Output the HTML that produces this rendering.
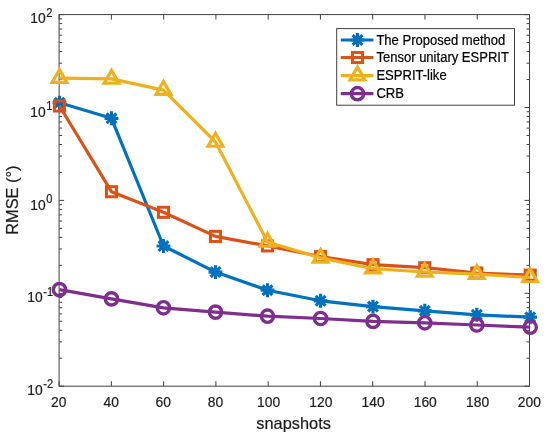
<!DOCTYPE html>
<html><head><meta charset="utf-8"><title>RMSE vs snapshots</title>
<style>html,body{margin:0;padding:0;background:#fff}</style></head>
<body>
<svg width="550" height="438" viewBox="0 0 550 438" style="display:block">
<rect width="550" height="438" fill="#fff"/>
<path d="M59.10 386.2v-5.0M59.10 14.6v5.0M111.37 386.2v-5.0M111.37 14.6v5.0M163.63 386.2v-5.0M163.63 14.6v5.0M215.90 386.2v-5.0M215.90 14.6v5.0M268.17 386.2v-5.0M268.17 14.6v5.0M320.43 386.2v-5.0M320.43 14.6v5.0M372.70 386.2v-5.0M372.70 14.6v5.0M424.97 386.2v-5.0M424.97 14.6v5.0M477.23 386.2v-5.0M477.23 14.6v5.0M529.50 386.2v-5.0M529.50 14.6v5.0M59.1 14.60h5.0M529.5 14.60h-5.0M59.1 79.53h3.0M529.5 79.53h-3.0M59.1 63.18h3.0M529.5 63.18h-3.0M59.1 51.57h3.0M529.5 51.57h-3.0M59.1 42.57h3.0M529.5 42.57h-3.0M59.1 35.21h3.0M529.5 35.21h-3.0M59.1 28.99h3.0M529.5 28.99h-3.0M59.1 23.60h3.0M529.5 23.60h-3.0M59.1 18.85h3.0M529.5 18.85h-3.0M59.1 107.50h5.0M529.5 107.50h-5.0M59.1 172.43h3.0M529.5 172.43h-3.0M59.1 156.08h3.0M529.5 156.08h-3.0M59.1 144.47h3.0M529.5 144.47h-3.0M59.1 135.47h3.0M529.5 135.47h-3.0M59.1 128.11h3.0M529.5 128.11h-3.0M59.1 121.89h3.0M529.5 121.89h-3.0M59.1 116.50h3.0M529.5 116.50h-3.0M59.1 111.75h3.0M529.5 111.75h-3.0M59.1 200.40h5.0M529.5 200.40h-5.0M59.1 265.33h3.0M529.5 265.33h-3.0M59.1 248.98h3.0M529.5 248.98h-3.0M59.1 237.37h3.0M529.5 237.37h-3.0M59.1 228.37h3.0M529.5 228.37h-3.0M59.1 221.01h3.0M529.5 221.01h-3.0M59.1 214.79h3.0M529.5 214.79h-3.0M59.1 209.40h3.0M529.5 209.40h-3.0M59.1 204.65h3.0M529.5 204.65h-3.0M59.1 293.30h5.0M529.5 293.30h-5.0M59.1 358.23h3.0M529.5 358.23h-3.0M59.1 341.88h3.0M529.5 341.88h-3.0M59.1 330.27h3.0M529.5 330.27h-3.0M59.1 321.27h3.0M529.5 321.27h-3.0M59.1 313.91h3.0M529.5 313.91h-3.0M59.1 307.69h3.0M529.5 307.69h-3.0M59.1 302.30h3.0M529.5 302.30h-3.0M59.1 297.55h3.0M529.5 297.55h-3.0M59.1 386.20h5.0M529.5 386.20h-5.0" stroke="#404040" stroke-width="1" fill="none"/>
<rect x="59.1" y="14.6" width="470.4" height="371.59999999999997" fill="none" stroke="#404040" stroke-width="1"/>
<polyline points="59.50,102.70 111.50,118.30 163.50,246.00 215.50,272.10 267.50,290.20 320.60,300.80 373.00,306.60 424.80,310.80 476.80,314.80 530.20,317.20" stroke="#0072BD" stroke-width="3.2" fill="none" stroke-linejoin="round"/>
<path d="M54.16 102.70H64.83M59.50 97.37V108.03M55.73 98.93L63.27 106.47M55.73 106.47L63.27 98.93" stroke="#0072BD" stroke-width="3.2" stroke-linecap="square" fill="none"/>
<path d="M106.17 118.30H116.83M111.50 112.97V123.63M107.73 114.53L115.27 122.07M107.73 122.07L115.27 114.53" stroke="#0072BD" stroke-width="3.2" stroke-linecap="square" fill="none"/>
<path d="M158.16 246.00H168.84M163.50 240.66V251.34M159.73 242.23L167.27 249.77M159.73 249.77L167.27 242.23" stroke="#0072BD" stroke-width="3.2" stroke-linecap="square" fill="none"/>
<path d="M210.16 272.10H220.84M215.50 266.77V277.44M211.73 268.33L219.27 275.87M211.73 275.87L219.27 268.33" stroke="#0072BD" stroke-width="3.2" stroke-linecap="square" fill="none"/>
<path d="M262.17 290.20H272.83M267.50 284.87V295.53M263.73 286.43L271.27 293.97M263.73 293.97L271.27 286.43" stroke="#0072BD" stroke-width="3.2" stroke-linecap="square" fill="none"/>
<path d="M315.27 300.80H325.94M320.60 295.47V306.13M316.83 297.03L324.37 304.57M316.83 304.57L324.37 297.03" stroke="#0072BD" stroke-width="3.2" stroke-linecap="square" fill="none"/>
<path d="M367.67 306.60H378.33M373.00 301.27V311.94M369.23 302.83L376.77 310.37M369.23 310.37L376.77 302.83" stroke="#0072BD" stroke-width="3.2" stroke-linecap="square" fill="none"/>
<path d="M419.47 310.80H430.13M424.80 305.47V316.13M421.03 307.03L428.57 314.57M421.03 314.57L428.57 307.03" stroke="#0072BD" stroke-width="3.2" stroke-linecap="square" fill="none"/>
<path d="M471.47 314.80H482.13M476.80 309.47V320.13M473.03 311.03L480.57 318.57M473.03 318.57L480.57 311.03" stroke="#0072BD" stroke-width="3.2" stroke-linecap="square" fill="none"/>
<path d="M524.87 317.20H535.54M530.20 311.87V322.53M526.43 313.43L533.97 320.97M526.43 320.97L533.97 313.43" stroke="#0072BD" stroke-width="3.2" stroke-linecap="square" fill="none"/>
<polyline points="59.50,106.00 111.50,191.70 163.50,212.30 215.50,236.40 267.50,245.90 320.60,256.50 373.00,264.70 424.80,267.70 476.80,273.00 530.20,275.10" stroke="#D95319" stroke-width="3.2" fill="none" stroke-linejoin="round"/>
<rect x="54.45" y="100.95" width="10.1" height="10.1" stroke="#D95319" stroke-width="3.0" fill="none"/>
<rect x="106.45" y="186.65" width="10.1" height="10.1" stroke="#D95319" stroke-width="3.0" fill="none"/>
<rect x="158.45" y="207.25" width="10.1" height="10.1" stroke="#D95319" stroke-width="3.0" fill="none"/>
<rect x="210.45" y="231.35" width="10.1" height="10.1" stroke="#D95319" stroke-width="3.0" fill="none"/>
<rect x="262.45" y="240.85" width="10.1" height="10.1" stroke="#D95319" stroke-width="3.0" fill="none"/>
<rect x="315.55" y="251.45" width="10.1" height="10.1" stroke="#D95319" stroke-width="3.0" fill="none"/>
<rect x="367.95" y="259.65" width="10.1" height="10.1" stroke="#D95319" stroke-width="3.0" fill="none"/>
<rect x="419.75" y="262.65" width="10.1" height="10.1" stroke="#D95319" stroke-width="3.0" fill="none"/>
<rect x="471.75" y="267.95" width="10.1" height="10.1" stroke="#D95319" stroke-width="3.0" fill="none"/>
<rect x="525.15" y="270.05" width="10.1" height="10.1" stroke="#D95319" stroke-width="3.0" fill="none"/>
<polyline points="59.50,78.20 111.50,78.90 163.50,90.10 215.50,142.00 267.50,242.00 320.60,257.90 373.00,268.70 424.80,272.00 476.80,274.20 530.20,277.50" stroke="#EDB120" stroke-width="3.2" fill="none" stroke-linejoin="round"/>
<path d="M59.50 69.66L66.90 82.47L52.10 82.47Z" stroke="#EDB120" stroke-width="3.2" stroke-linejoin="miter" fill="none"/>
<path d="M111.50 70.36L118.90 83.17L104.10 83.17Z" stroke="#EDB120" stroke-width="3.2" stroke-linejoin="miter" fill="none"/>
<path d="M163.50 81.56L170.90 94.37L156.10 94.37Z" stroke="#EDB120" stroke-width="3.2" stroke-linejoin="miter" fill="none"/>
<path d="M215.50 133.46L222.90 146.27L208.10 146.27Z" stroke="#EDB120" stroke-width="3.2" stroke-linejoin="miter" fill="none"/>
<path d="M267.50 233.46L274.90 246.27L260.10 246.27Z" stroke="#EDB120" stroke-width="3.2" stroke-linejoin="miter" fill="none"/>
<path d="M320.60 249.36L328.00 262.17L313.20 262.17Z" stroke="#EDB120" stroke-width="3.2" stroke-linejoin="miter" fill="none"/>
<path d="M373.00 260.16L380.40 272.97L365.60 272.97Z" stroke="#EDB120" stroke-width="3.2" stroke-linejoin="miter" fill="none"/>
<path d="M424.80 263.46L432.20 276.27L417.40 276.27Z" stroke="#EDB120" stroke-width="3.2" stroke-linejoin="miter" fill="none"/>
<path d="M476.80 265.66L484.20 278.47L469.40 278.47Z" stroke="#EDB120" stroke-width="3.2" stroke-linejoin="miter" fill="none"/>
<path d="M530.20 268.96L537.60 281.77L522.80 281.77Z" stroke="#EDB120" stroke-width="3.2" stroke-linejoin="miter" fill="none"/>
<polyline points="59.50,289.60 111.50,298.90 163.50,307.80 215.50,312.10 267.50,316.20 320.60,318.50 373.00,321.40 424.80,322.80 476.80,325.00 530.20,327.20" stroke="#7E2F8E" stroke-width="3.2" fill="none" stroke-linejoin="round"/>
<circle cx="59.50" cy="289.60" r="6.15" stroke="#7E2F8E" stroke-width="3.4" fill="none"/>
<circle cx="111.50" cy="298.90" r="6.15" stroke="#7E2F8E" stroke-width="3.4" fill="none"/>
<circle cx="163.50" cy="307.80" r="6.15" stroke="#7E2F8E" stroke-width="3.4" fill="none"/>
<circle cx="215.50" cy="312.10" r="6.15" stroke="#7E2F8E" stroke-width="3.4" fill="none"/>
<circle cx="267.50" cy="316.20" r="6.15" stroke="#7E2F8E" stroke-width="3.4" fill="none"/>
<circle cx="320.60" cy="318.50" r="6.15" stroke="#7E2F8E" stroke-width="3.4" fill="none"/>
<circle cx="373.00" cy="321.40" r="6.15" stroke="#7E2F8E" stroke-width="3.4" fill="none"/>
<circle cx="424.80" cy="322.80" r="6.15" stroke="#7E2F8E" stroke-width="3.4" fill="none"/>
<circle cx="476.80" cy="325.00" r="6.15" stroke="#7E2F8E" stroke-width="3.4" fill="none"/>
<circle cx="530.20" cy="327.20" r="6.15" stroke="#7E2F8E" stroke-width="3.4" fill="none"/>
<g font-family="'Liberation Sans', Arial, sans-serif" font-size="13.86" fill="#1c1c1c" stroke="#1c1c1c" stroke-width="0.2">
<text transform="translate(58.70 407.10) scale(1 1.057)" text-anchor="middle">20</text>
<text transform="translate(111.27 407.10) scale(1 1.057)" text-anchor="middle">40</text>
<text transform="translate(163.23 407.10) scale(1 1.057)" text-anchor="middle">60</text>
<text transform="translate(215.50 407.10) scale(1 1.057)" text-anchor="middle">80</text>
<text transform="translate(268.57 407.10) scale(1 1.057)" text-anchor="middle">100</text>
<text transform="translate(320.83 407.10) scale(1 1.057)" text-anchor="middle">120</text>
<text transform="translate(373.10 407.10) scale(1 1.057)" text-anchor="middle">140</text>
<text transform="translate(425.27 407.10) scale(1 1.057)" text-anchor="middle">160</text>
<text transform="translate(477.63 407.10) scale(1 1.057)" text-anchor="middle">180</text>
<text transform="translate(529.40 407.10) scale(1 1.057)" text-anchor="middle">200</text>
<text transform="translate(45.70 23.20) scale(1 1.057)" text-anchor="end">10</text>
<text transform="translate(52.45 16.85) scale(1 1.135)" text-anchor="end" font-size="11.1">2</text>
<text transform="translate(45.70 116.60) scale(1 1.057)" text-anchor="end">10</text>
<text transform="translate(52.45 109.75) scale(1 1.135)" text-anchor="end" font-size="11.1">1</text>
<text transform="translate(45.70 209.50) scale(1 1.057)" text-anchor="end">10</text>
<text transform="translate(52.45 203.15) scale(1 1.135)" text-anchor="end" font-size="11.1">0</text>
<text transform="translate(42.65 301.90) scale(1 1.057)" text-anchor="end">10</text>
<text transform="translate(53.20 295.55) scale(1 1.135)" text-anchor="end" font-size="11.1">-1</text>
<text transform="translate(42.65 394.80) scale(1 1.057)" text-anchor="end">10</text>
<text transform="translate(53.20 388.45) scale(1 1.135)" text-anchor="end" font-size="11.1">-2</text>
</g>
<g font-family="'Liberation Sans', Arial, sans-serif" font-size="16.35" fill="#1c1c1c" stroke="#1c1c1c" stroke-width="0.2">
<text transform="translate(293.60 428.80) scale(1 1.04)" text-anchor="middle">snapshots</text>
<text transform="translate(17.90 200.20) rotate(-90) scale(1 1.04)" text-anchor="middle">RMSE (°)</text>
</g>
<rect x="336.7" y="28.6" width="177.8" height="76.6" fill="#fff" stroke="#404040" stroke-width="1"/>
<path d="M340.8 40.0H373.4" stroke="#0072BD" stroke-width="3.2" fill="none"/>
<path d="M352.17 40.00H362.83M357.50 34.66V45.34M353.73 36.23L361.27 43.77M353.73 43.77L361.27 36.23" stroke="#0072BD" stroke-width="3.2" stroke-linecap="square" fill="none"/>
<path d="M340.8 57.5H373.4" stroke="#D95319" stroke-width="3.2" fill="none"/>
<rect x="352.45" y="52.45" width="10.1" height="10.1" stroke="#D95319" stroke-width="3.0" fill="none"/>
<path d="M340.8 75.6H373.4" stroke="#EDB120" stroke-width="3.2" fill="none"/>
<path d="M357.50 67.06L364.90 79.87L350.10 79.87Z" stroke="#EDB120" stroke-width="3.2" stroke-linejoin="miter" fill="none"/>
<path d="M340.8 93.7H373.4" stroke="#7E2F8E" stroke-width="3.2" fill="none"/>
<circle cx="357.50" cy="93.70" r="6.15" stroke="#7E2F8E" stroke-width="3.4" fill="none"/>
<g font-family="'Liberation Sans', Arial, sans-serif" font-size="13.05" fill="#000" stroke="#000" stroke-width="0.2">
<text transform="translate(376.40 44.70) scale(1 1.078)" text-anchor="start">The Proposed method</text>
<text transform="translate(376.40 62.20) scale(1 1.078)" text-anchor="start">Tensor unitary ESPRIT</text>
<text transform="translate(376.40 80.30) scale(1 1.078)" text-anchor="start">ESPRIT-like</text>
<text transform="translate(376.40 98.40) scale(1 1.078)" text-anchor="start">CRB</text>
</g>
</svg>
</body></html>
